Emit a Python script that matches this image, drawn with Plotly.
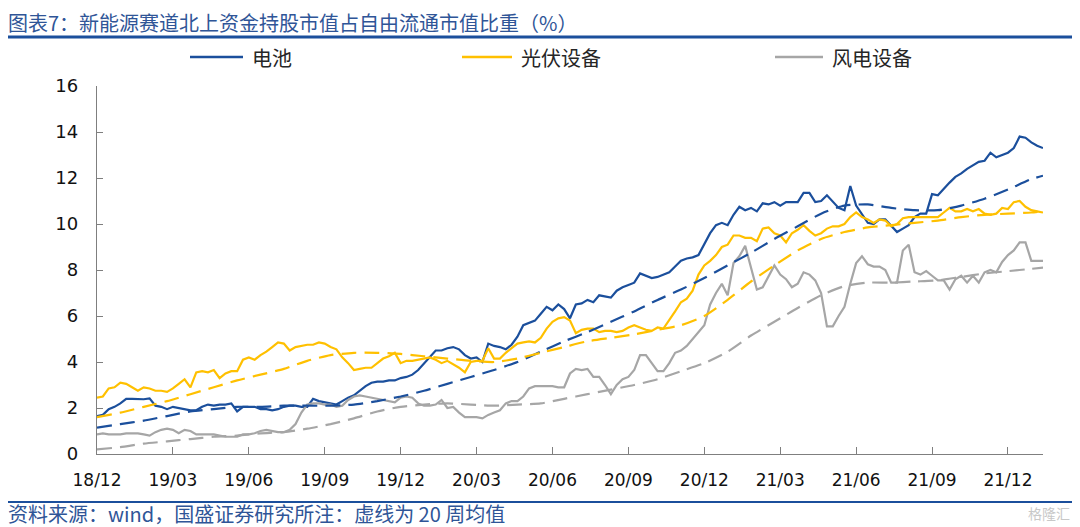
import pandas as pd
import plotly.graph_objects as go

# ---------------- data ----------------
weeks = [d.strftime("%Y-%m-%d") for d in pd.date_range("2018-12-07", periods=163, freq="7D")]

battery = [1.65, 1.7, 1.95, 2.05, 2.2, 2.4, 2.4, 2.38, 2.38, 2.42,
           2.1, 2.05, 1.95, 2.05, 2.0, 1.95, 1.9, 1.9, 2.05, 2.15,
           2.1, 2.15, 2.15, 2.2, 1.85, 2.05, 2.05, 2.05, 1.95, 1.95,
           1.9, 1.95, 2.05, 2.1, 2.1, 2.05, 2.05, 2.4, 2.3, 2.25,
           2.2, 2.15, 2.3, 2.45, 2.55, 2.75, 2.95, 3.1, 3.15, 3.15,
           3.2, 3.2, 3.3, 3.35, 3.45, 3.65, 3.95, 4.2, 4.5, 4.5,
           4.6, 4.65, 4.55, 4.3, 4.15, 4.2, 4.0, 4.8, 4.7, 4.65,
           4.55, 4.75, 5.1, 5.6, 5.7, 5.8, 6.1, 6.4, 6.25, 6.5,
           6.3, 5.9, 6.5, 6.55, 6.7, 6.6, 6.9, 6.85, 6.8, 7.1,
           7.25, 7.35, 7.45, 7.85, 7.75, 7.65, 7.7, 7.8, 7.9, 8.15,
           8.4, 8.5, 8.55, 8.65, 9.1, 9.6, 9.95, 10.05, 9.95, 10.4,
           10.75, 10.6, 10.7, 10.55, 10.9, 10.85, 10.95, 10.8, 10.95, 10.95,
           10.95, 11.35, 11.35, 10.95, 11.0, 11.25, 10.95, 10.7, 10.6, 11.65,
           10.8, 10.4, 10.05, 10.0, 10.2, 10.2, 9.9, 9.65, 9.8, 9.95,
           10.3, 10.45, 10.45, 11.3, 11.25, 11.55, 11.8, 12.05, 12.2, 12.4,
           12.55, 12.7, 12.75, 13.1, 12.9, 13.0, 13.1, 13.3, 13.8, 13.75,
           13.55, 13.4, 13.3]

solar = [2.45, 2.5, 2.85, 2.9, 3.1, 3.05, 2.9, 2.75, 2.9, 2.85,
         2.75, 2.75, 2.7, 2.85, 3.05, 3.25, 2.9, 3.55, 3.6, 3.55,
         3.65, 3.3, 3.5, 3.6, 3.6, 4.1, 4.2, 4.1, 4.3, 4.45,
         4.65, 4.85, 4.8, 4.5, 4.65, 4.7, 4.75, 4.75, 4.85, 4.8,
         4.65, 4.55, 4.2, 3.95, 3.65, 3.7, 3.75, 3.75, 3.95, 4.15,
         4.25, 4.4, 3.95, 4.05, 4.05, 4.1, 4.15, 4.2, 4.1, 3.95,
         4.05, 3.9, 3.75, 3.55, 4.0, 4.05, 4.05, 4.6, 4.15, 4.15,
         4.4, 4.6, 4.8, 4.85, 4.9, 4.85, 5.05, 5.45, 5.75, 5.9,
         5.95, 5.8, 5.25, 5.4, 5.45, 5.45, 5.3, 5.35, 5.35, 5.3,
         5.35, 5.5, 5.6, 5.5, 5.4, 5.35, 5.5, 5.45, 5.8, 6.2,
         6.6, 6.75, 7.1, 7.8, 8.2, 8.4, 8.65, 9.0, 9.1, 9.5,
         9.5, 9.4, 9.4, 9.25, 9.8, 9.85, 9.6, 9.5, 9.2, 9.6,
         9.75, 9.95, 9.7, 9.5, 9.6, 9.8, 9.9, 9.9, 10.0, 10.3,
         10.5, 10.3, 10.2, 10.05, 10.2, 10.15, 9.9, 10.0, 10.25, 10.3,
         10.3, 10.3, 10.3, 10.3, 10.3, 10.5, 10.7, 10.55, 10.55, 10.65,
         10.55, 10.65, 10.45, 10.4, 10.45, 10.7, 10.65, 10.95, 11.0, 10.75,
         10.6, 10.55, 10.5]

wind = [0.85, 0.9, 0.85, 0.85, 0.85, 0.9, 0.9, 0.9, 0.85, 0.8,
        0.95, 1.05, 1.1, 1.05, 0.9, 1.05, 1.0, 0.85, 0.85, 0.85,
        0.85, 0.8, 0.75, 0.75, 0.75, 0.85, 0.85, 0.9, 1.0, 1.05,
        1.0, 0.95, 0.95, 1.05, 1.3, 1.8, 2.15, 2.2, 2.2, 2.15,
        2.15, 2.05, 2.1, 2.35, 2.5, 2.55, 2.5, 2.45, 2.4, 2.35,
        2.3, 2.25, 2.45, 2.5, 2.45, 2.2, 2.1, 2.1, 2.15, 2.35,
        2.0, 2.05, 1.8, 1.6, 1.6, 1.6, 1.55, 1.7, 1.8, 1.9,
        2.2, 2.3, 2.3, 2.5, 2.85, 2.95, 2.95, 2.95, 2.95, 2.9,
        2.9, 3.5, 3.7, 3.65, 3.7, 3.35, 3.35, 3.0, 2.6, 3.0,
        3.25, 3.35, 3.65, 4.3, 4.3, 3.95, 3.6, 3.6, 3.95, 4.4,
        4.5, 4.7, 5.0, 5.25, 5.6, 6.5, 7.0, 7.4, 6.9, 8.3,
        8.6, 9.05, 8.1, 7.15, 7.25, 7.7, 8.2, 7.8, 7.6, 7.25,
        7.4, 7.9, 7.8, 7.55, 7.0, 5.55, 5.55, 6.0, 6.4, 7.4,
        8.3, 8.6, 8.25, 8.15, 8.15, 8.0, 7.45, 7.45, 8.85, 9.1,
        7.9, 7.8, 7.95, 7.75, 7.55, 7.55, 7.15, 7.6, 7.75, 7.45,
        7.75, 7.45, 7.9, 8.0, 7.9, 8.35, 8.65, 8.85, 9.2, 9.2,
        8.4, 8.4, 8.4]

# 20-week averages (dashed), read every 4 weeks
ma_index = [0, 4, 8, 12, 16, 20, 24, 28, 32, 36, 40, 44, 48, 52, 56, 60, 64, 68, 72, 76,
            80, 84, 88, 92, 96, 100, 104, 108, 112, 116, 120, 124, 128, 132, 136, 140,
            144, 148, 152, 156, 160, 162]
battery_ma = [1.15, 1.3, 1.45, 1.65, 1.85, 1.95, 2.05, 2.05, 2.1, 2.1, 2.1, 2.15, 2.3, 2.5,
              2.75, 3.05, 3.35, 3.65, 4.0, 4.45, 4.9, 5.3, 5.75, 6.2, 6.7, 7.15, 7.65, 8.2,
              8.75, 9.35, 9.9, 10.45, 10.8, 10.85, 10.7, 10.6, 10.6, 10.8, 11.1, 11.5, 11.95, 12.1]
solar_ma = [1.6, 1.8, 2.05, 2.3, 2.6, 2.9, 3.2, 3.45, 3.7, 4.05, 4.3, 4.4, 4.4, 4.35,
            4.25, 4.15, 4.05, 4.0, 4.15, 4.4, 4.65, 4.9, 5.05, 5.2, 5.4, 5.6, 6.0, 6.7,
            7.5, 8.2, 8.85, 9.35, 9.65, 9.85, 9.95, 10.05, 10.15, 10.3, 10.4, 10.45, 10.5, 10.55]
wind_ma = [0.2, 0.3, 0.45, 0.55, 0.65, 0.75, 0.8, 0.9, 0.95, 1.1, 1.3, 1.55, 1.85, 2.05,
           2.15, 2.2, 2.15, 2.1, 2.15, 2.2, 2.4, 2.6, 2.8, 3.0, 3.25, 3.6, 3.95, 4.45,
           5.15, 5.75, 6.35, 6.9, 7.3, 7.45, 7.45, 7.5, 7.55, 7.7, 7.85, 7.95, 8.05, 8.1]

tick_index = [0, 13, 26, 39, 52, 65, 78, 91, 104, 117, 130, 143, 156]
tick_labels = ["18/12", "19/03", "19/06", "19/09", "19/12", "20/03", "20/06",
               "20/09", "20/12", "21/03", "21/06", "21/09", "21/12"]

series_names = ["电池", "光伏设备", "风电设备"]
title_text = "图表7：新能源赛道北上资金持股市值占自由流通市值比重（%）"
source_text = "资料来源：wind，国盛证券研究所注：虚线为 20 周均值"

# ---------------- style ----------------
C_BLUE = "#1B4F9C"
C_YEL = "#FFC000"
C_GRAY = "#A6A6A6"
C_HEAD = "#2F5597"
AX = "#7F7F7F"
CJK = "Noto Sans CJK SC"

fig = go.Figure()
ma_x = [weeks[i] for i in ma_index]
for name, vals, col in zip(series_names, [battery, solar, wind], [C_BLUE, C_YEL, C_GRAY]):
    fig.add_trace(go.Scatter(x=weeks, y=vals, mode="lines", name=name,
                             line=dict(color=col, width=2.2), showlegend=False))
for name, vals, col in zip(series_names, [battery_ma, solar_ma, wind_ma], [C_BLUE, C_YEL, C_GRAY]):
    fig.add_trace(go.Scatter(x=ma_x, y=vals, mode="lines", name=name + "（20周均值）",
                             line=dict(color=col, width=2.2, dash="15px,8px", shape="spline",
                                       smoothing=0.6),
                             showlegend=False))

# the page body adds an 8px offset; target positions below are in window pixels
OFF = 8
W, H = 1080, 527
PL, PR, PT, PB = 97, 1043, 86, 454          # plot box in window pixels
L, T = PL - OFF, PT - OFF
R, B = W - (PR - OFF), H - (PB - OFF)
pw, ph = PR - PL, PB - PT

def px(xp):
    return (xp - PL) / pw

def py(yp):
    return (PB - yp) / ph

shapes = []
annotations = []
# legend (manual)
leg = [(190, 243, 250, series_names[0], C_BLUE),
       (462, 512, 519, series_names[1], C_YEL),
       (775, 823, 830, series_names[2], C_GRAY)]
for x0, x1, xt, name, col in leg:
    shapes.append(dict(type="line", xref="paper", yref="paper", x0=px(x0), x1=px(x1),
                       y0=py(57), y1=py(57), line=dict(color=col, width=2.5)))
    annotations.append(dict(text=name, xref="paper", yref="paper", x=px(xt), y=py(57),
                            xanchor="left", yanchor="middle", showarrow=False,
                            font=dict(family=CJK, size=20, color="#262626")))
# header / footer rules
shapes.append(dict(type="line", xref="paper", yref="paper", x0=px(0), x1=px(W + 20),
                   y0=py(37), y1=py(37), line=dict(color=C_BLUE, width=3)))
shapes.append(dict(type="line", xref="paper", yref="paper", x0=px(0), x1=px(W + 20),
                   y0=py(502), y1=py(502), line=dict(color=C_BLUE, width=2)))
annotations.append(dict(text=title_text, xref="paper", yref="paper", x=px(6), y=py(22.5),
                        xanchor="left", yanchor="middle", showarrow=False,
                        font=dict(family=CJK, size=20, color=C_HEAD)))
annotations.append(dict(text=source_text, xref="paper", yref="paper", x=px(6), y=py(513),
                        xanchor="left", yanchor="middle", showarrow=False,
                        font=dict(family=CJK, size=20, color=C_HEAD)))
annotations.append(dict(text="格隆汇", xref="paper", yref="paper", x=px(1072), y=py(513),
                        xanchor="right", yanchor="middle", showarrow=False,
                        font=dict(family=CJK, size=14, color="#C8C8C8")))

fig.update_layout(
    width=W, height=H,
    margin=dict(l=L, r=R, t=T, b=B, pad=0),
    paper_bgcolor="white", plot_bgcolor="white",
    shapes=shapes, annotations=annotations,
    showlegend=False,
    xaxis=dict(type="category", range=[0, 162], tickmode="array",
               tickvals=[weeks[i] for i in tick_index], ticktext=tick_labels,
               showgrid=False, zeroline=False, showline=True, linecolor=AX, linewidth=1.3,
               ticks="inside", ticklen=7, tickcolor=AX, tickwidth=1,
               ticklabelstandoff=10,
               tickfont=dict(family="DejaVu Sans", size=17, color="#111111")),
    yaxis=dict(range=[0, 16], tickvals=[0, 2, 4, 6, 8, 10, 12, 14, 16],
               showgrid=False, zeroline=False, showline=True, linecolor=AX, linewidth=1.3,
               ticks="inside", ticklen=6, tickcolor=AX, tickwidth=1,
               ticklabelstandoff=14,
               tickfont=dict(family="DejaVu Sans", size=18, color="#111111")),
)

fig.write_html("out.html")
